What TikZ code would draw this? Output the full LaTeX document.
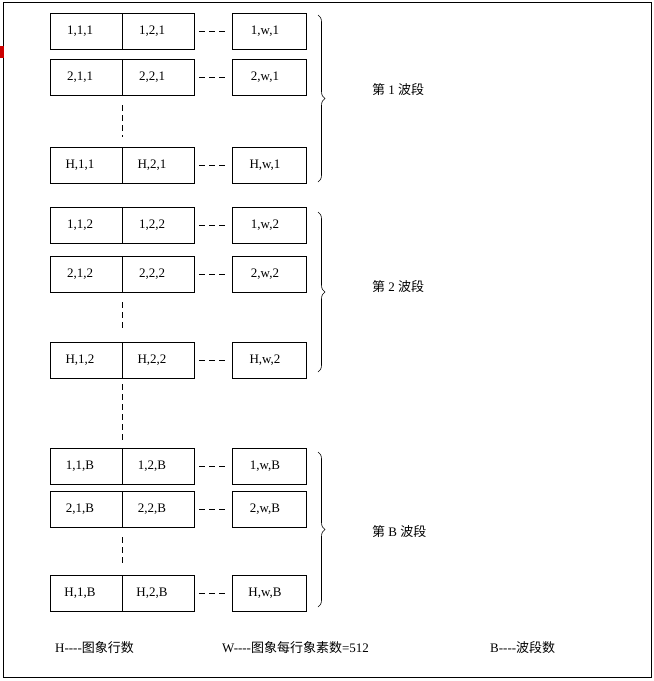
\documentclass[tikz,border=0pt]{standalone}
\usepackage{fontspec}
\setmainfont{Liberation Serif}
\newfontfamily\cjk{Noto Sans CJK SC}
\usetikzlibrary{decorations.pathreplacing}
\begin{document}
\begin{tikzpicture}[x=1pt,y=-1pt,
  cell/.style={draw,line width=0.8pt,minimum height=36pt,inner sep=0pt,font=\fontsize{13}{15}\selectfont},
  c1/.style={cell,minimum width=72pt},
  c3/.style={cell,minimum width=74pt},
  dline/.style={dashed,dash pattern=on 6pt off 4pt,line width=0.8pt},
  brc/.style={decorate,decoration={brace,amplitude=7pt},line width=0.6pt},
  lab/.style={font=\fontsize{13}{15}\selectfont,anchor=west,inner sep=0pt}]
\useasboundingbox (0,0) rectangle (654,681);
\draw[line width=1pt] (3,2) rectangle (651,677);
\fill[red!80!black] (0,46) rectangle (4,58);
\newcommand{\cellrow}[4]{%
  \node[c1] (#1a) at (86,#2) {\hspace*{-12pt}#3,1,#4};
  \node[c1] (#1b) at (158,#2) {\hspace*{-12pt}#3,2,#4};
  \node[c3] (#1c) at (269,#2) {\hspace*{-8pt}#3,w,#4};
  \draw[dline] ([xshift=5pt]#1b.east) -- ([xshift=-5pt]#1c.west);}
% group 1
\cellrow{ga}{31}{1}{1}
\cellrow{gb}{77}{2}{1}
\cellrow{gc}{165}{H}{1}
\draw[dline] ([yshift=-10pt]gba.south east) -- ([yshift=10pt]gca.north east);
\draw[brc] (318,15) -- (318,182);
\node[lab] (l1) at (372,90) {{\cjk 第} 1 {\cjk 波段}};
% group 2
\cellrow{ha}{225}{1}{2}
\cellrow{hb}{274}{2}{2}
\cellrow{hc}{360}{H}{2}
\draw[dline] ([yshift=-10pt]hba.south east) -- ([yshift=10pt]hca.north east);
\draw[brc] (318,212) -- (318,372);
\node[lab] (l2) at (372,287) {{\cjk 第} 2 {\cjk 波段}};
% group 3
\cellrow{ia}{466}{1}{B}
\cellrow{ib}{509}{2}{B}
\cellrow{ic}{593}{H}{B}
\draw[dline] ([yshift=-6pt]hca.south east) -- ([yshift=8pt]iaa.north east);
\draw[dline] ([yshift=-10pt]iba.south east) -- ([yshift=10pt]ica.north east);
\draw[brc] (318,452) -- (318,607);
\node[lab] (l3) at (372,532) {{\cjk 第} B {\cjk 波段}};
% legend
\node[lab] (f1) at (55,648) {H{-}{-}{-}{-}{\cjk 图象行数}};
\node[lab] (f2) at (222,648) {W{-}{-}{-}{-}{\cjk 图象每行象素数}=512};
\node[lab] (f3) at (490,648) {B{-}{-}{-}{-}{\cjk 波段数}};
\end{tikzpicture}
\end{document}
